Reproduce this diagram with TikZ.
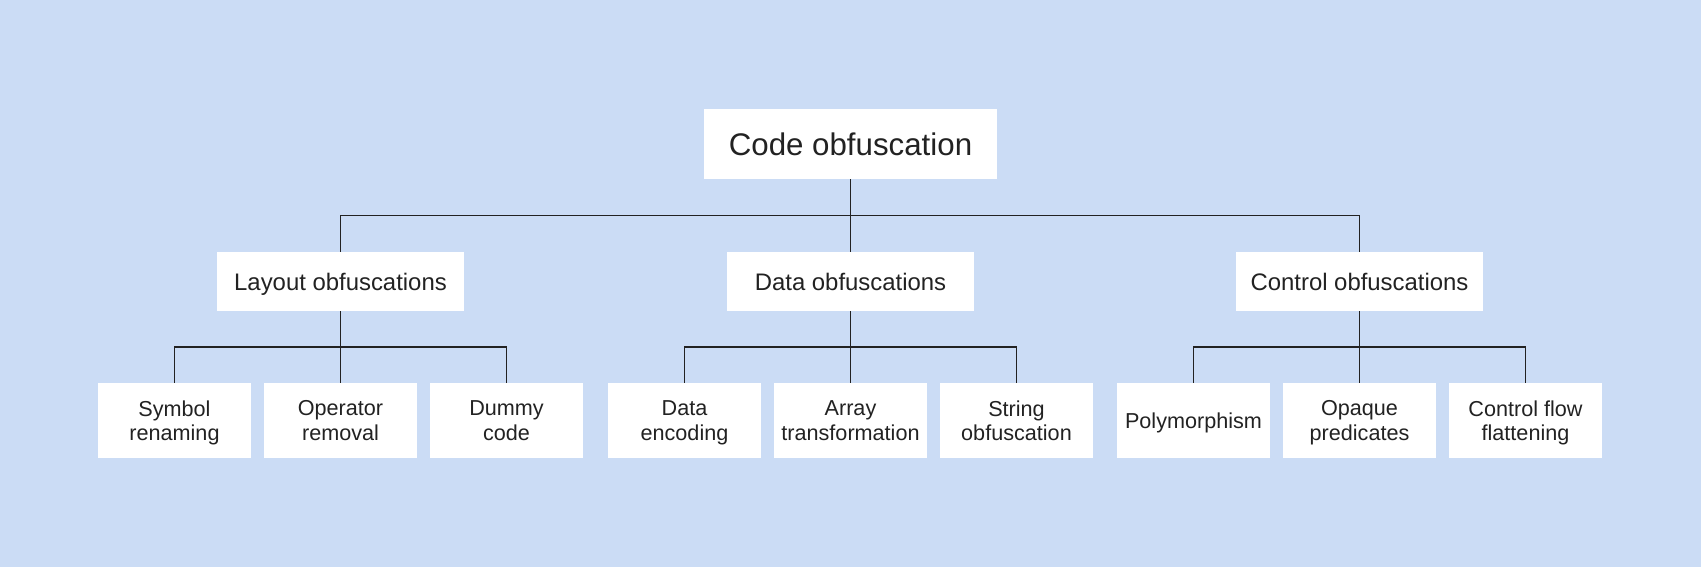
\documentclass[tikz,border=0pt]{standalone}
\usepackage{fontspec}
\setmainfont{Liberation Sans}
\usetikzlibrary{positioning,calc}
\definecolor{bgblue}{RGB}{203,220,245}
\definecolor{ink}{RGB}{34,34,34}

\begin{document}
\begin{tikzpicture}[node distance=3.32cm,on grid,
  root node/.style={rectangle,fill=white,text=ink,minimum width=5.86cm,
    minimum height=1.4cm,text depth=0pt,font=\fontsize{17.8}{21}\selectfont},
  group node/.style={rectangle,fill=white,text=ink,minimum width=4.94cm,
    minimum height=1.18cm,text depth=0pt,font=\fontsize{13.6}{16}\selectfont},
  leaf node/.style={rectangle,fill=white,text=ink,minimum width=3.06cm,
    minimum height=1.5cm,align=center,text depth=0pt,
    font=\fontsize{12.3}{13.8}\selectfont},
  link/.style={draw=ink,line width=0.65pt}]

  \fill[bgblue] (0,0) rectangle (34.02,-11.34);
  \useasboundingbox (0,0) rectangle (34.02,-11.34);

  \node[root node] (code) at (17.01,-2.88) {Code obfuscation};
  \node[group node] (data) [below=2.75cm of code] {Data obfuscations};
  \node[group node] (layout) [left=10.2cm of data] {Layout obfuscations};
  \node[group node] (control) [right=10.18cm of data] {Control obfuscations};

  \node[leaf node] (operator) [below=2.78cm of layout] {Operator\\removal};
  \node[leaf node] (symbol) [left=of operator] {Symbol\\renaming};
  \node[leaf node] (dummy) [right=of operator] {Dummy\\code};
  \node[leaf node] (array) [below=2.78cm of data] {Array\\transformation};
  \node[leaf node] (encoding) [left=of array] {Data\\encoding};
  \node[leaf node] (string) [right=of array] {String\\obfuscation};
  \node[leaf node] (opaque) [below=2.78cm of control] {Opaque\\predicates};
  \node[leaf node] (poly) [left=of opaque] {Polymorphism};
  \node[leaf node] (flatten) [right=of opaque] {Control flow\\flattening};

  % top level
  \coordinate (top bus) at ($(code.south)!0.5!(data.north)$);
  \draw[link] (code.south) -- (data.north);
  \draw[link] (layout.north) |- (top bus) -| (control.north);

  % second level
  \foreach \g/\l/\m/\r in {layout/symbol/operator/dummy,
      data/encoding/array/string, control/poly/opaque/flatten} {
    \draw[link] (\g.south) -- (\m.north);
    \draw[link] (\l.north) |- ($(\g.south)!0.5!(\m.north)$) -| (\r.north);
  }
\end{tikzpicture}
\end{document}
